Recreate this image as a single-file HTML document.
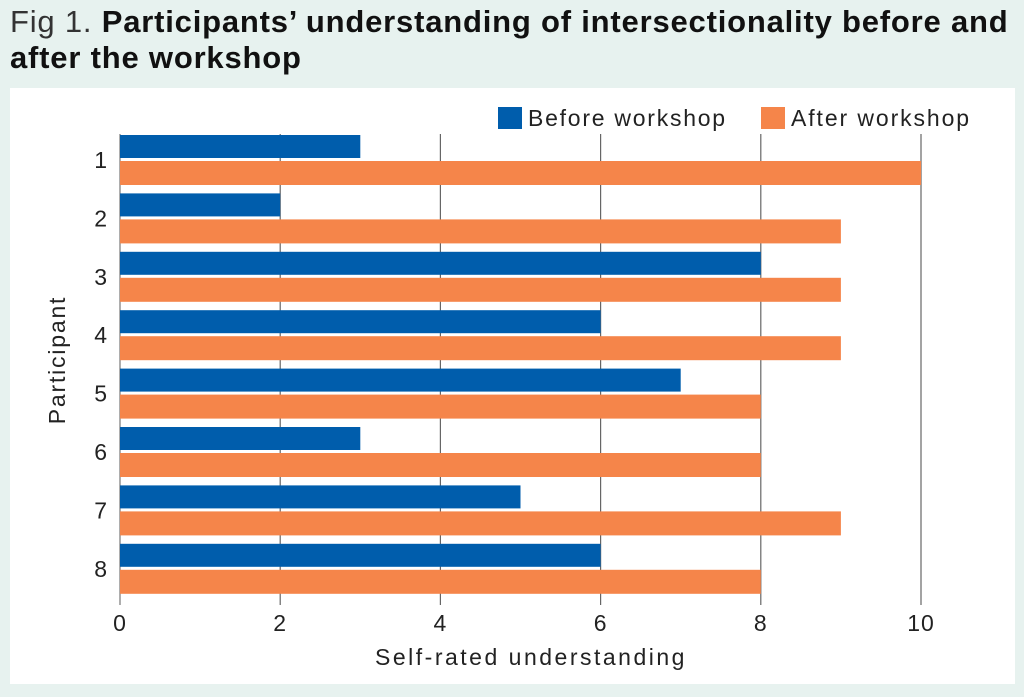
<!DOCTYPE html>
<html><head><meta charset="utf-8"><style>
body{margin:0;width:1024px;height:697px;background:#e7f2ef;font-family:"Liberation Sans",sans-serif;overflow:hidden;position:relative}
#title{position:absolute;left:10px;top:4px;white-space:nowrap;font-size:31px;line-height:36px;color:#111;letter-spacing:0.8px}
#title b{font-weight:bold}
#panel{position:absolute;left:10px;top:88px;width:1005px;height:596px;background:#fff}
svg{position:absolute;left:0;top:0}
text{font-family:"Liberation Sans",sans-serif;fill:#222}
</style></head><body>
<div id="title"><span style="font-weight:normal;color:#333">Fig 1. </span><b>Participants’ understanding of intersectionality before and<br>after the workshop</b></div>
<div id="panel"></div>
<svg id="chart" width="1024" height="697"></svg>
<script>
const participants=["1","2","3","4","5","6","7","8"];
const beforeVals=[3,2,8,6,7,3,5,6];
const afterVals=[10,9,9,9,8,8,9,8];
const xTicks=[0,2,4,6,8,10];
const NS="http://www.w3.org/2000/svg";
const svg=document.getElementById('chart');
const x=v=>120+v*80.1;
const rowY=i=>135+i*58.4;
function el(t,a,p){const e=document.createElementNS(NS,t);for(const k in a)e.setAttribute(k,a[k]);(p||svg).appendChild(e);return e;}
xTicks.forEach(t=>{
  const l=el('line',{x1:x(t),x2:x(t),y1:134,y2:605,stroke:t===0?'#777':'#666','stroke-width':1.2});
  
  
  const tx=el('text',{x:x(t),y:631,'text-anchor':'middle','font-size':23,'letter-spacing':1});
  tx.textContent=t;
  
  
});
participants.forEach((p,i)=>{
  const y=rowY(i);
  const b=el('rect',{x:x(0),y:y,width:x(beforeVals[i])-x(0),height:23,fill:'#005dac'});
  
  
  const a=el('rect',{x:x(0),y:y+26,width:x(afterVals[i])-x(0),height:24,fill:'#f5854a'});
  
  
  const t=el('text',{x:107,y:y+33,'text-anchor':'end','font-size':23});
  t.textContent=p;
  
  
});
const xt=el('text',{x:531,y:665,'text-anchor':'middle','font-size':23,'letter-spacing':2.5});
xt.textContent='Self-rated understanding';


const yt=el('text',{x:0,y:0,'text-anchor':'middle','font-size':23,'letter-spacing':1.8,transform:'translate(65,360) rotate(-90)'});
yt.textContent='Participant';


const lg=el('g',{});


const r1=el('rect',{x:498,y:107,width:24,height:22,fill:'#005dac'},lg);


const l1=el('text',{x:528,y:126,'font-size':23,'letter-spacing':1.75},lg);l1.textContent='Before workshop';


const r2=el('rect',{x:761,y:107,width:24,height:22,fill:'#f5854a'},lg);


const l2=el('text',{x:791,y:126,'font-size':23,'letter-spacing':1.9},lg);l2.textContent='After workshop';


</script>
</body></html>
